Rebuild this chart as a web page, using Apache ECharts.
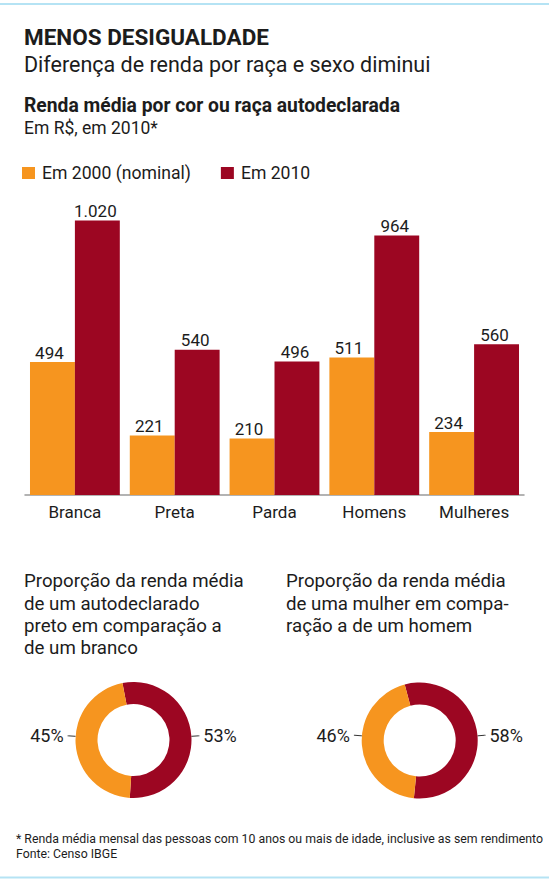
<!DOCTYPE html>
<html>
<head>
<meta charset="utf-8">
<script src="https://cdn.jsdelivr.net/npm/echarts@6/dist/echarts.min.js"></script>
<style>
html,body{margin:0;padding:0;background:#fff;}
#c{width:550px;height:881px;}
</style>
</head>
<body>
<div id="c"></div>
<script>
// ---- data ----
const categorias = ['Branca', 'Preta', 'Parda', 'Homens', 'Mulheres'];
const renda2000 = [494, 221, 210, 511, 234];
const renda2010 = [1020, 540, 496, 964, 560];
const serieNomes = ['Em 2000 (nominal)', 'Em 2010'];
const propPretoBranco = [45, 53];   // 2000, 2010
const propMulherHomem = [46, 58];   // 2000, 2010

// ---- style ----
const FONT = 'Roboto, "Noto Sans", sans-serif';
const ORANGE = '#F6951F';
const RED = '#9C0622';
const INK = '#1c1c1c';

const fmt = v => String(v).replace(/\B(?=(\d{3})+(?!\d))/g, '.');

const chart = echarts.init(document.getElementById('c'), null, {renderer: 'svg'});

function txt(x, y, text, size, weight, extra) {
  return {
    type: 'text', x: x, y: y,
    style: Object.assign({
      text: text, fill: INK, fontFamily: FONT, fontSize: size,
      fontWeight: weight || 'normal', verticalAlign: 'middle', align: 'left'
    }, extra || {})
  };
}

function donut(center, vals, startAngle) {
  const cy = center[1];
  return {
    type: 'pie',
    center: center,
    radius: [36, 58],
    startAngle: startAngle,
    clockwise: true,
    silent: true,
    avoidLabelOverlap: false,
    data: [
      {name: serieNomes[1], value: vals[1], itemStyle: {color: RED}},
      {name: serieNomes[0], value: vals[0], itemStyle: {color: ORANGE}}
    ],
    label: {
      show: true, position: 'outside', formatter: '{c}%',
      fontFamily: FONT, fontSize: 18, color: INK, distanceToLabelLine: 4
    },
    labelLine: {show: true, length: 7, length2: 1, lineStyle: {color: '#333', width: 1}},
    // keep both labels on the same horizontal level (mirror the lower one above the centre)
    labelLayout: function (p) {
      if (p.dataIndex !== 1 || !p.labelLinePoints) return {};
      const mid = p.labelRect.y + p.labelRect.height / 2;
      const pts = p.labelLinePoints.map(q => [q[0], 2 * cy - q[1]]);
      return {dy: 2 * cy - 2 * mid, labelLinePoints: pts};
    },
    emphasis: {disabled: true}
  };
}

const option = {
  backgroundColor: '#fff',
  animation: false,
  textStyle: {fontFamily: FONT},
  legend: {
    data: serieNomes,
    left: 22, top: 164, padding: 0,
    icon: 'rect', itemWidth: 13, itemHeight: 12, itemGap: 30,
    textStyle: {fontFamily: FONT, fontSize: 17.6, color: INK, padding: [0, 0, 0, 2]},
    selectedMode: false
  },
  grid: {left: 25, right: 26, top: 199, bottom: 386},
  xAxis: {
    type: 'category', data: categorias,
    axisLine: {show: true, lineStyle: {color: '#9a9a9a', width: 1.5}},
    axisTick: {show: false},
    axisLabel: {fontFamily: FONT, fontSize: 17, color: INK, margin: 8}
  },
  yAxis: {
    type: 'value', min: 0, max: 1100, show: false,
    splitLine: {show: false}
  },
  series: [
    {
      name: serieNomes[0], type: 'bar', data: renda2000,
      barGap: 0, barCategoryGap: '10%',
      itemStyle: {color: ORANGE},
      label: {show: true, position: 'top', distance: 1, offset: [-3, 0],
        fontFamily: FONT, fontSize: 17, color: INK, formatter: p => fmt(p.value)},
      silent: true
    },
    {
      name: serieNomes[1], type: 'bar', data: renda2010,
      barGap: 0, barCategoryGap: '10%',
      itemStyle: {color: RED},
      label: {show: true, position: 'top', distance: 1, offset: [-2, 0],
        fontFamily: FONT, fontSize: 17, color: INK, formatter: p => fmt(p.value)},
      silent: true
    },
    donut([133.5, 740], propPretoBranco, 101),
    donut([419.7, 740.5], propMulherHomem, 105)
  ],
  graphic: [
    {type: 'rect', shape: {x: 0, y: 3, width: 549, height: 2}, style: {fill: '#B5E3F4'}, silent: true},
    {type: 'rect', shape: {x: 0, y: 876.5, width: 549, height: 2}, style: {fill: '#B5E3F4'}, silent: true},
    txt(24, 37, 'MENOS DESIGUALDADE', 22.5, 'bold'),
    txt(24, 64.5, 'Diferença de renda por raça e sexo diminui', 21.5),
    txt(24, 105, 'Renda média por cor ou raça autodeclarada', 19.3, 'bold'),
    txt(24, 128, 'Em R$, em 2010*', 17.5),
    txt(24, 570, 'Proporção da renda média\nde um autodeclarado\npreto em comparação a\nde um branco', 18.7, 'normal',
      {verticalAlign: 'top', lineHeight: 22.4}),
    txt(286, 570, 'Proporção da renda média\nde uma mulher em compa-\nração a de um homem', 18.7, 'normal',
      {verticalAlign: 'top', lineHeight: 22.4}),
    txt(16, 831, '* Renda média mensal das pessoas com 10 anos ou mais de idade, inclusive as sem rendimento\nFonte: Censo IBGE', 12.3, 'normal',
      {verticalAlign: 'top', lineHeight: 15})
  ]
};

chart.setOption(option);
</script>
</body>
</html>
